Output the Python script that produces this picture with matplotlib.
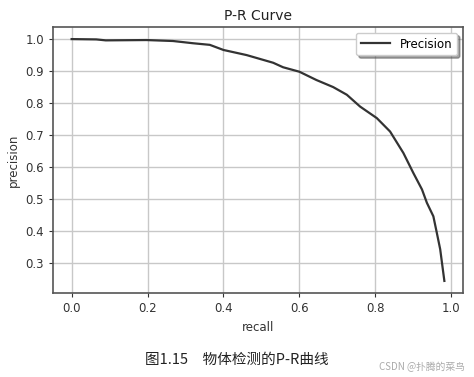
import matplotlib
matplotlib.use("Agg")
import matplotlib.pyplot as plt

# --- DATA ---
recall = [0.0, 0.065, 0.09, 0.197, 0.267, 0.32, 0.364, 0.40, 0.461, 0.531,
          0.557, 0.60, 0.645, 0.689, 0.725, 0.76, 0.804, 0.839, 0.874, 0.90,
          0.923, 0.936, 0.953, 0.962, 0.971, 0.982]
precision = [1.0, 0.999, 0.996, 0.997, 0.994, 0.987, 0.982, 0.966, 0.95, 0.926,
             0.912, 0.898, 0.872, 0.85, 0.826, 0.789, 0.753, 0.711, 0.644, 0.582,
             0.53, 0.488, 0.446, 0.395, 0.343, 0.244]
x_ticks = [0.0, 0.2, 0.4, 0.6, 0.8, 1.0]
y_ticks = [0.3, 0.4, 0.5, 0.6, 0.7, 0.8, 0.9, 1.0]

plt.rcParams['font.family'] = ['DejaVu Sans', 'Noto Sans CJK SC']

fig = plt.figure(figsize=(4.74, 3.77), dpi=100)
ax = fig.add_axes([53 / 474, 1 - 293 / 377, 410 / 474, 266 / 377])

ax.plot(recall, precision, color="#333333", lw=1.6, label="Precision")
ax.set_xticks(x_ticks)
ax.set_yticks(y_ticks)
ax.grid(True, color="#c8c8c8", lw=1.0)
ax.tick_params(labelsize=8.5, colors="#333333", length=3)
for s in ax.spines.values():
    s.set_color("#555555")
    s.set_linewidth(1.2)

ax.set_title("P-R Curve", fontsize=10, color="#222222", pad=5)
ax.set_xlabel("recall", fontsize=8.5, color="#333333")
ax.set_ylabel("precision", fontsize=8.5, color="#333333")

leg = ax.legend(loc="upper right", shadow=True, fontsize=8.5, handlelength=2.5)
leg.get_frame().set_edgecolor("#cccccc")

# --- caption + watermark ---
fig.text(0.5, 1 - 360 / 377, "图1.15　物体检测的P-R曲线", ha="center", va="center",
         fontsize=10.5, color="#222222", family=['Noto Sans CJK SC'])
fig.text(465 / 474, 1 - 367 / 377, "CSDN @扑腾的菜鸟", ha="right", va="center",
         fontsize=7, color="#aaaaaa", family=['Noto Sans CJK SC'])

fig.savefig("out.png", dpi=100)
